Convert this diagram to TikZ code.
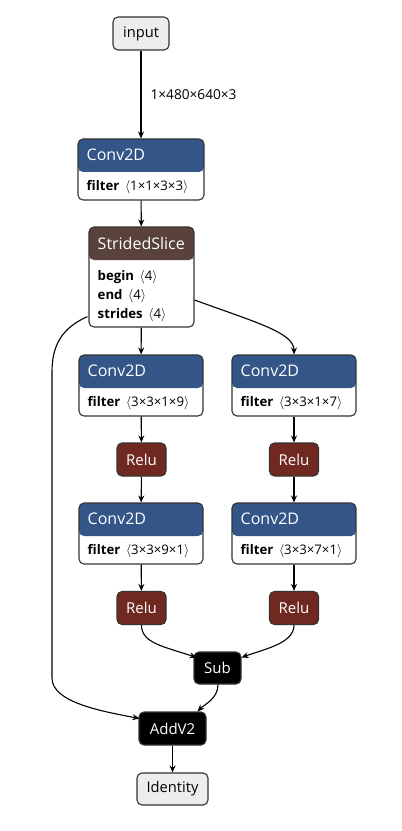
\documentclass[tikz,border=0pt]{standalone}
\usepackage{fontspec}
\setmainfont{Open Sans}
\usetikzlibrary{calc}
\usetikzlibrary{arrows.meta}
\newcommand{\pxu}{0.75pt}
\definecolor{convblue}{RGB}{51,85,136}
\definecolor{slicebrown}{RGB}{89,66,59}
\definecolor{relured}{RGB}{112,41,33}
\definecolor{edgegray}{RGB}{51,51,51}

\begin{document}
\begin{tikzpicture}[
        x=\pxu, y=-\pxu,
        >={Stealth[length=7*\pxu,width=6*\pxu]},
        box/.style = {draw=edgegray, line width=1.1*\pxu, rounded corners=5*\pxu, inner sep=0pt},
        io/.style = {box, fill=black!7, font=\fontsize{11}{12}\selectfont},
        op/.style = {box, fill=#1, text=white, font=\fontsize{11.25}{12}\selectfont},
        layer/.style = {box, fill=white, path picture={
            \fill[#1] (path picture bounding box.north west) rectangle ([yshift=-33*\pxu]path picture bounding box.north east);
        }},
        title/.style = {anchor=west, inner sep=0pt, text=white, font=\fontsize{12}{14}\selectfont},
        attr/.style = {anchor=west, inner sep=0pt, font=\fontsize{9.9}{11}\selectfont},
        edge/.style = {->, line width=1.1*\pxu, black}
    ]
    \useasboundingbox (0,0) rectangle (401,831);
    % input and first conv
    \node[io, minimum width=56*\pxu, minimum height=33*\pxu] (input) at (141,33.5) {input};
    \node[layer=convblue, minimum width=126*\pxu, minimum height=61*\pxu] (conv) at (141,169.5) {};
    \node[title] (convT) at ($(conv.north west)+(9,16.5)$) {Conv2D};
    \node[attr] (convA) at ($(conv.north west)+(9,49)$) {\textbf{filter}\, $\langle$1×1×3×3$\rangle$};
    % strided slice
    \node[layer=slicebrown, minimum width=105*\pxu, minimum height=100*\pxu] (slice) at (141.5,277) {};
    \node[title] (sliceT) at ($(slice.north west)+(9,17)$) {StridedSlice};
    \node[attr] (sliceB) at ($(slice.north west)+(9,51)$) {\textbf{begin}\, $\langle$4$\rangle$};
    \node[attr] (sliceE) at ($(slice.north west)+(9,70)$) {\textbf{end}\, $\langle$4$\rangle$};
    \node[attr] (sliceS) at ($(slice.north west)+(9,89)$) {\textbf{strides}\, $\langle$4$\rangle$};
    % left branch
    \node[layer=convblue, minimum width=124*\pxu, minimum height=61*\pxu] (convL1) at (141,385.5) {};
    \node[title] (convL1T) at ($(convL1.north west)+(9,16.5)$) {Conv2D};
    \node[attr] (convL1A) at ($(convL1.north west)+(9,49)$) {\textbf{filter}\, $\langle$3×3×1×9$\rangle$};
    \node[op=relured, minimum width=49*\pxu, minimum height=33*\pxu] (reluL1) at (141.5,459.5) {Relu};
    \node[layer=convblue, minimum width=124*\pxu, minimum height=61*\pxu] (convL2) at (141,533.5) {};
    \node[title] (convL2T) at ($(convL2.north west)+(9,16.5)$) {Conv2D};
    \node[attr] (convL2A) at ($(convL2.north west)+(9,49)$) {\textbf{filter}\, $\langle$3×3×9×1$\rangle$};
    \node[op=relured, minimum width=49*\pxu, minimum height=33*\pxu] (reluL2) at (141.5,608) {Relu};
    % right branch
    \node[layer=convblue, minimum width=124*\pxu, minimum height=61*\pxu] (convR1) at (294,385.5) {};
    \node[title] (convR1T) at ($(convR1.north west)+(9,16.5)$) {Conv2D};
    \node[attr] (convR1A) at ($(convR1.north west)+(9,49)$) {\textbf{filter}\, $\langle$3×3×1×7$\rangle$};
    \node[op=relured, minimum width=49*\pxu, minimum height=33*\pxu] (reluR1) at (294,459.5) {Relu};
    \node[layer=convblue, minimum width=124*\pxu, minimum height=61*\pxu] (convR2) at (294,533.5) {};
    \node[title] (convR2T) at ($(convR2.north west)+(9,16.5)$) {Conv2D};
    \node[attr] (convR2A) at ($(convR2.north west)+(9,49)$) {\textbf{filter}\, $\langle$3×3×7×1$\rangle$};
    \node[op=relured, minimum width=49*\pxu, minimum height=33*\pxu] (reluR2) at (294,608) {Relu};
    % merge
    \node[op=black, minimum width=47*\pxu, minimum height=32*\pxu] (sub) at (217.5,668) {Sub};
    \node[op=black, minimum width=67*\pxu, minimum height=33*\pxu] (add) at (172.5,728.5) {AddV2};
    \node[io, minimum width=71*\pxu, minimum height=32*\pxu] (ident) at (172.5,789) {Identity};
    % edges
    \draw[edge] (input) -- node[midway, anchor=west, xshift=9*\pxu, inner sep=0pt, font=\fontsize{10.25}{12}\selectfont] (shape) {1×480×640×3} (conv);
    \draw[edge] (conv) -- (slice);
    \draw[edge] (slice) -- (convL1);
    \draw[edge] ($(slice.east)+(0,23)$) .. controls ($(slice.east)+(60,45)$) and ($(convR1.north)+(0,-22)$) .. (convR1.north);
    \draw[edge] ($(slice.south west)+(-1,-11)$) .. controls (62,328) and (52,345) .. (52,372) -- (52,678)
        .. controls (52,702) and (100,711) .. ($(add.north west)+(1,7)$);
    \draw[edge] (convL1) -- (reluL1);
    \draw[edge] (reluL1) -- (convL2);
    \draw[edge] (convL2) -- (reluL2);
    \draw[edge] (convR1) -- (reluR1);
    \draw[edge] (reluR1) -- (convR2);
    \draw[edge] (convR2) -- (reluR2);
    \draw[edge] (reluL2.south) .. controls ($(reluL2.south)+(0,18)$) and ($(sub.north west)+(-30,-5)$) .. ($(sub.north west)+(3,6)$);
    \draw[edge] (reluR2.south) .. controls ($(reluR2.south)+(0,18)$) and ($(sub.north east)+(25,-3)$) .. ($(sub.north east)+(0,6)$);
    \draw[edge] ($(sub.south)+(0.5,0)$) .. controls ($(sub.south)+(0.5,14)$) and ($(add.north)+(32,-7)$) .. ($(add.north)+(25,0)$);
    \draw[edge] (add) -- (ident);
\end{tikzpicture}
\end{document}
